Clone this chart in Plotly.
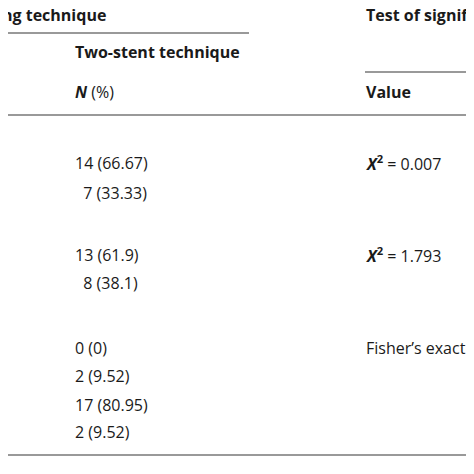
import plotly.graph_objects as go

headers = ["<b>ng technique</b>", "<b>Test of signifi</b>", "<b>Two-stent technique</b>", "<b><i>N</i></b> (%)", "<b>Value</b>"]
two_stent = ["14 (66.67)", "  7 (33.33)", "13 (61.9)", "  8 (38.1)", "0 (0)", "2 (9.52)", "17 (80.95)", "2 (9.52)"]
row_y = [163, 193, 255, 283, 348, 376, 405, 432]
test_vals = ["<b><i>X</i><sup>2</sup></b> = 0.007", "<b><i>X</i><sup>2</sup></b> = 1.793", "Fisher’s exact t"]
test_y = [163, 255, 348]

fig = go.Figure()
F = dict(family="Open Sans", size=16, color="#1a1a1a")
def txt(x, y, t, anchor="left"):
    fig.add_annotation(x=x, y=y, text=t, showarrow=False, xanchor=anchor, yanchor="middle", font=F, xref="x", yref="y")

txt(108, 15, headers[0], "right"); txt(364, 15, headers[1])
txt(73, 52, headers[2]); txt(73, 92, headers[3]); txt(364, 92, headers[4])
for t, y in zip(two_stent, row_y):
    txt(73, y, t)
for t, y in zip(test_vals, test_y):
    txt(364, y, t)

for x0, x1, y in [(8, 249, 33), (365, 482, 72), (8, 482, 115), (8, 482, 455)]:
    fig.add_shape(type="line", x0=x0, x1=x1, y0=y, y1=y, xref="x", yref="y", line=dict(color="#777", width=1.3))

fig.update_xaxes(range=[8, 482], visible=False)
fig.update_yaxes(range=[482, 8], visible=False)
fig.update_layout(width=474, height=474, margin=dict(l=0, r=0, t=0, b=0), plot_bgcolor="white", paper_bgcolor="white", showlegend=False)
fig.write_html("out.html")
